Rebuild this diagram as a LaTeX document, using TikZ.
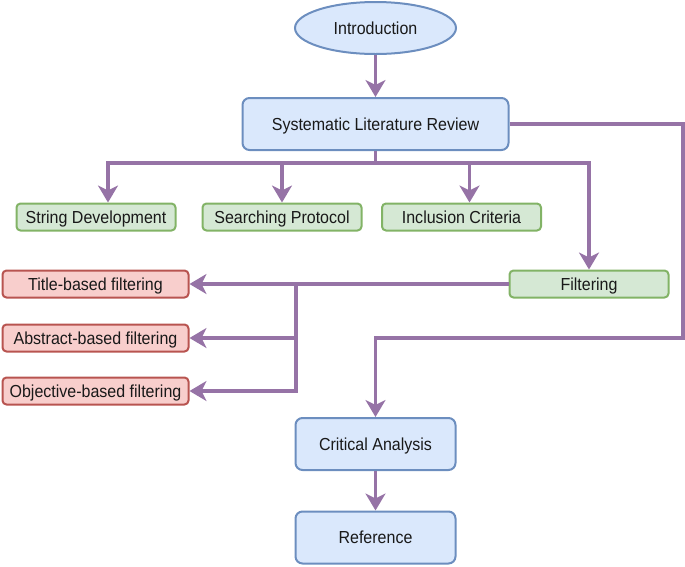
\documentclass[tikz,border=0pt]{standalone}
\usepackage{fontspec}
\setmainfont{Liberation Sans}[FakeStretch=0.92]
\usepackage{tikz}
\usetikzlibrary{shapes}
\usetikzlibrary{arrows.meta}
\usetikzlibrary{calc}

\definecolor{bluefill}{HTML}{DAE8FC}
\definecolor{blueline}{HTML}{6C8EBF}
\definecolor{greenfill}{HTML}{D5E8D4}
\definecolor{greenline}{HTML}{82B366}
\definecolor{redfill}{HTML}{F8CECC}
\definecolor{redline}{HTML}{B85450}
\definecolor{flowcol}{HTML}{9673A6}

\begin{document}
\begin{tikzpicture}[x=1pt,y=-1pt,
  every node/.style={font=\fontsize{17.4}{20}\selectfont, text=black!90, line width=2pt, inner sep=0pt, text height=12.5pt, text depth=0pt},
  bluebox/.style={draw=blueline, fill=bluefill, rounded corners=7pt, minimum width=160pt, minimum height=52pt},
  greenbox/.style={draw=greenline, fill=greenfill, rounded corners=4pt, minimum width=159pt, minimum height=27pt},
  redbox/.style={draw=redline, fill=redfill, rounded corners=4pt, minimum width=186pt, minimum height=27pt},
  flow/.style={draw=flowcol, line width=3.2pt, -{Stealth[length=17pt,width=20pt,inset=5pt]}}]
      \useasboundingbox (0,0) rectangle (685,566);

      \node[ellipse, draw=blueline, fill=bluefill, minimum width=161pt, minimum height=52pt] (intro) at (375.5, 28) {Introduction};
      \node[bluebox, minimum width=266pt] (slr) at (375.5, 124) {Systematic Literature Review};

      \node[greenbox] (strdev) at (96, 217) {String Development};
      \node[greenbox] (search) at (282, 217) {Searching Protocol};
      \node[greenbox] (incl) at (461.5, 217) {Inclusion Criteria};
      \node[greenbox] (filt) at (589, 284) {Filtering};

      \node[redbox] (title) at (95.5, 284) {Title-based filtering};
      \node[redbox] (abstr) at (95.5, 338) {Abstract-based filtering};
      \node[redbox] (objec) at (95.5, 391) {Objective-based filtering};

      \node[bluebox] (crit) at (375.5, 444) {Critical Analysis};
      \node[bluebox] (ref) at (375.5, 537.5) {Reference};

      \coordinate (split) at (375.5, 163);
      \coordinate (fsplit) at (296, 284);
      \coordinate (loop) at (683, 338);

      \draw[flow] (intro) -- (slr);
      \draw[flow] (slr) -- (split) -| ([xshift=12pt]strdev.north);
      \draw[flow] (split) -| (search);
      \draw[flow] (split) -| ([xshift=8pt]incl.north);
      \draw[flow] (split) -| (filt);

      \draw[flow] (filt) -- (title);
      \draw[flow] (fsplit) |- (abstr);
      \draw[flow] (fsplit) |- (objec);

      \draw[flow] (slr.east) -| (loop) -| (crit);
      \draw[flow] (crit) -- (ref);

    \end{tikzpicture}
\end{document}
